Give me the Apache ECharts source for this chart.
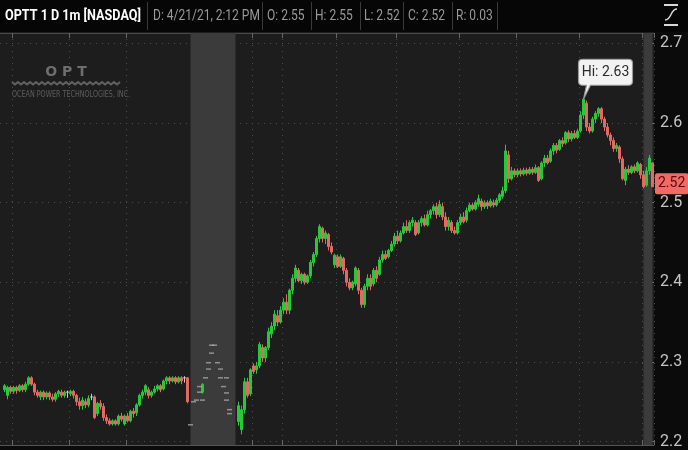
<!DOCTYPE html>
<html><head><meta charset="utf-8">
<script src="https://cdn.jsdelivr.net/npm/echarts@6/dist/echarts.min.js"></script>
<style>html,body{margin:0;padding:0;background:#000}#c{width:688px;height:450px}</style>
</head><body><div id="c"></div>
<script>
// ---- data (OHLC as [open, close, low, high]) ----
const slotCount = 218;
const priorStart = 1;
const priorSession = [
[2.265,2.27,2.262,2.272],[2.258,2.268,2.253,2.27],[2.268,2.263,2.26,2.27],[2.263,2.268,2.26,2.27],
[2.268,2.264,2.26,2.27],[2.264,2.27,2.262,2.272],[2.27,2.265,2.262,2.272],[2.265,2.272,2.262,2.275],
[2.272,2.28,2.27,2.282],[2.28,2.272,2.27,2.282],[2.272,2.262,2.258,2.274],[2.262,2.258,2.255,2.265],
[2.256,2.262,2.252,2.264],[2.262,2.256,2.252,2.264],[2.256,2.261,2.253,2.263],[2.261,2.256,2.252,2.263],
[2.256,2.253,2.25,2.26],[2.253,2.26,2.25,2.262],[2.26,2.263,2.256,2.265],[2.262,2.258,2.255,2.265],
[2.258,2.262,2.255,2.264],[2.262,2.262,2.255,2.264],[2.26,2.263,2.257,2.265],[2.263,2.258,2.254,2.265],
[2.258,2.25,2.245,2.26],[2.25,2.245,2.24,2.255],[2.245,2.252,2.24,2.256],[2.25,2.246,2.242,2.254],
[2.246,2.254,2.243,2.258],[2.256,2.256,2.252,2.26],[2.256,2.23,2.228,2.258],[2.235,2.248,2.232,2.25],
[2.248,2.244,2.24,2.252],[2.244,2.23,2.226,2.248],[2.23,2.226,2.222,2.234],[2.226,2.222,2.22,2.229],
[2.222,2.226,2.22,2.228],[2.226,2.222,2.22,2.228],[2.222,2.232,2.22,2.234],[2.232,2.228,2.225,2.236],
[2.222,2.232,2.22,2.234],[2.232,2.226,2.224,2.236],[2.226,2.238,2.224,2.24],[2.238,2.235,2.23,2.242],
[2.236,2.246,2.232,2.248],[2.246,2.258,2.244,2.26],[2.258,2.262,2.254,2.265],[2.262,2.27,2.258,2.272],
[2.265,2.258,2.254,2.268],[2.258,2.262,2.255,2.264],[2.262,2.266,2.26,2.27],[2.266,2.27,2.263,2.272],
[2.27,2.265,2.262,2.272],[2.266,2.276,2.264,2.278],[2.276,2.28,2.272,2.282],[2.28,2.276,2.272,2.282],
[2.276,2.28,2.274,2.282],[2.28,2.275,2.272,2.282],[2.275,2.28,2.273,2.282],[2.28,2.276,2.272,2.282],
[2.28,2.28,2.274,2.282],[2.28,2.25,2.248,2.281]
];
const premarketStart = 63, premarketEnd = 78;
const premarketCandleIdx = 67;
const premarketCandle = [2.262,2.272,2.26,2.273];
const premarketTrades = [
[63,2.221],[64,2.25],[65,2.252],[66,2.262],[66,2.269],[67,2.252],[68,2.28],[69,2.291],[69,2.299],
[70,2.311],[70,2.321],[71,2.321],[72,2.299],[73,2.291],[73,2.28],[74,2.269],[75,2.28],[75,2.261],
[75,2.252],[76,2.24],[76,2.235]
];
const regularStart = 79;
const regularSession = [
[2.225,2.245,2.22,2.25],[2.215,2.24,2.209,2.245],[2.24,2.275,2.235,2.28],[2.275,2.258,2.255,2.28],
[2.26,2.29,2.257,2.292],[2.295,2.288,2.285,2.298],[2.29,2.295,2.285,2.30],[2.295,2.322,2.292,2.325],
[2.318,2.305,2.30,2.322],[2.305,2.318,2.30,2.32],[2.318,2.338,2.315,2.343],[2.335,2.345,2.33,2.35],
[2.345,2.36,2.34,2.365],[2.358,2.35,2.345,2.365],[2.35,2.365,2.348,2.37],[2.365,2.375,2.36,2.38],
[2.375,2.365,2.36,2.385],[2.365,2.39,2.36,2.392],[2.39,2.405,2.385,2.41],[2.405,2.418,2.40,2.422],
[2.415,2.402,2.40,2.418],[2.402,2.41,2.398,2.412],[2.41,2.40,2.397,2.412],[2.40,2.408,2.398,2.41],
[2.408,2.425,2.405,2.428],[2.425,2.435,2.42,2.438],[2.435,2.455,2.432,2.458],[2.455,2.47,2.45,2.473],
[2.468,2.455,2.45,2.47],[2.455,2.462,2.448,2.465],[2.46,2.445,2.44,2.462],[2.445,2.438,2.435,2.45],
[2.422,2.434,2.418,2.436],[2.432,2.42,2.418,2.435],[2.42,2.432,2.418,2.435],[2.43,2.415,2.41,2.432],
[2.415,2.40,2.395,2.418],[2.40,2.393,2.39,2.405],[2.393,2.40,2.39,2.402],[2.398,2.418,2.395,2.42],
[2.415,2.39,2.385,2.418],[2.39,2.372,2.368,2.393],[2.372,2.395,2.368,2.398],[2.395,2.405,2.39,2.41],
[2.405,2.395,2.39,2.41],[2.398,2.415,2.395,2.418],[2.415,2.405,2.40,2.42],[2.41,2.428,2.408,2.432],
[2.428,2.435,2.425,2.44],[2.435,2.43,2.428,2.44],[2.432,2.44,2.43,2.442],[2.44,2.448,2.438,2.452],
[2.448,2.458,2.445,2.462],[2.458,2.452,2.448,2.465],[2.452,2.462,2.45,2.465],[2.462,2.47,2.46,2.475],
[2.47,2.465,2.462,2.478],[2.465,2.475,2.462,2.478],[2.475,2.478,2.47,2.482],[2.475,2.46,2.458,2.478],
[2.462,2.475,2.46,2.478],[2.475,2.48,2.47,2.483],[2.48,2.472,2.47,2.485],[2.472,2.485,2.47,2.49],
[2.485,2.49,2.48,2.492],[2.49,2.495,2.485,2.498],[2.495,2.485,2.48,2.50],[2.485,2.498,2.482,2.503],
[2.495,2.482,2.478,2.50],[2.482,2.47,2.465,2.488],[2.47,2.478,2.465,2.482],[2.475,2.465,2.462,2.478],
[2.465,2.462,2.46,2.47],[2.462,2.475,2.46,2.478],[2.475,2.482,2.472,2.486],[2.482,2.476,2.474,2.488],
[2.478,2.49,2.475,2.494],[2.49,2.497,2.488,2.50],[2.497,2.492,2.49,2.50],[2.492,2.50,2.49,2.503],
[2.498,2.505,2.495,2.51],[2.502,2.495,2.49,2.505],[2.495,2.50,2.492,2.503],[2.50,2.496,2.492,2.503],
[2.496,2.502,2.494,2.505],[2.50,2.497,2.494,2.504],[2.497,2.503,2.495,2.506],[2.503,2.51,2.50,2.512],
[2.508,2.515,2.505,2.52],[2.515,2.565,2.512,2.573],[2.56,2.53,2.525,2.565],[2.53,2.54,2.528,2.545],
[2.54,2.535,2.532,2.543],[2.535,2.54,2.532,2.543],[2.54,2.536,2.533,2.543],[2.536,2.541,2.534,2.544],
[2.541,2.537,2.534,2.544],[2.537,2.542,2.535,2.545],[2.542,2.538,2.535,2.545],[2.538,2.544,2.536,2.548],
[2.544,2.528,2.526,2.546],[2.53,2.55,2.528,2.552],[2.55,2.556,2.545,2.56],[2.556,2.55,2.548,2.56],
[2.552,2.565,2.55,2.568],[2.565,2.572,2.56,2.575],[2.572,2.566,2.562,2.575],[2.567,2.578,2.565,2.58],
[2.578,2.574,2.57,2.582],[2.575,2.588,2.573,2.59],[2.588,2.58,2.576,2.591],[2.58,2.587,2.577,2.59],
[2.587,2.582,2.58,2.591],[2.582,2.59,2.58,2.593],[2.59,2.61,2.588,2.615],[2.61,2.63,2.605,2.63],
[2.625,2.595,2.59,2.628],[2.595,2.59,2.587,2.60],[2.59,2.605,2.588,2.608],[2.605,2.612,2.60,2.615],
[2.612,2.618,2.608,2.62],[2.618,2.605,2.60,2.62],[2.605,2.595,2.59,2.608],[2.595,2.585,2.582,2.60],
[2.585,2.578,2.572,2.588],[2.578,2.568,2.564,2.582],[2.568,2.572,2.564,2.575],[2.57,2.555,2.55,2.572],
[2.555,2.53,2.528,2.558],[2.528,2.542,2.522,2.545],[2.542,2.538,2.535,2.547],[2.538,2.545,2.536,2.547],
[2.545,2.54,2.537,2.548],[2.54,2.55,2.538,2.552],[2.548,2.535,2.53,2.55],[2.535,2.52,2.518,2.54],
[2.522,2.54,2.52,2.545],[2.54,2.556,2.535,2.56],[2.55,2.52,2.52,2.55]
];
const timeGridIdx = [4,23,42,69,84,94,112,132,153,172,193,214];
const expansionStart = 214, expansionEnd = 217;
const titleText = 'OPTT 1 D 1m [NASDAQ]';
const headerItems = ['D: 4/21/21, 2:12 PM','O: 2.55','H: 2.55','L: 2.52','C: 2.52','R: 0.03'];

// ---- build ----
const categories = Array.from({length: slotCount}, (_, i) => 'm' + i);
const candles = new Array(slotCount).fill('-');
priorSession.forEach((c, k) => candles[priorStart + k] = c);
candles[premarketCandleIdx] = premarketCandle;
regularSession.forEach((c, k) => candles[regularStart + k] = c);
let hiIdx = regularStart, hiVal = -1;
regularSession.forEach((c, k) => { if (c[3] > hiVal) { hiVal = c[3]; hiIdx = regularStart + k; } });
const lastClose = regularSession[regularSession.length - 1][1];
const FONT = "Roboto,'DejaVu Sans'";

const headerX = [153, 267, 315, 364, 408, 456];
const sepX = [147, 262, 311, 360, 403, 452, 497];
const graphics = [
  {type:'rect', z:-5, shape:{x:0,y:0,width:688,height:32}, style:{fill:'#060606'}},
  {type:'rect', z:-5, shape:{x:654,y:32,width:34,height:418}, style:{fill:'#0b0b0b'}},
  {type:'rect', z:-5, shape:{x:0,y:446,width:654,height:4}, style:{fill:'#0b0b0b'}},
  {type:'text', z:10, x:5, y:16, scaleX:0.84, style:{text:titleText, fill:'#ffffff', font:"bold 15px " + FONT, textVerticalAlign:'middle'}},
];
headerItems.forEach((t, k) => graphics.push({type:'text', z:10, x:headerX[k], y:16, scaleX:0.8,
  style:{text:t, fill:'#9a9a9a', font:"15px " + FONT, textVerticalAlign:'middle'}}));
sepX.forEach(x => graphics.push({type:'line', z:10, shape:{x1:x+0.5,y1:2,x2:x+0.5,y2:30}, style:{stroke:'#3a3a3a', lineWidth:1}}));
// top-right icon
graphics.push({type:'rect', z:10, shape:{x:664,y:4,width:14,height:2}, style:{fill:'#d8d8d8'}});
graphics.push({type:'rect', z:10, shape:{x:664,y:24,width:14,height:2}, style:{fill:'#d8d8d8'}});
graphics.push({type:'bezierCurve', z:10, shape:{x1:665,y1:20,x2:677,y2:9,cpx1:672,cpy1:20,cpx2:670,cpy2:9}, style:{stroke:'#d8d8d8', lineWidth:1.5, fill:null}});
// watermark
graphics.push({type:'text', z:1, x:66, y:72, style:{text:'O P T', fill:'#6e6e6e', font:"bold 14px 'DejaVu Sans'", textAlign:'center', textVerticalAlign:'middle'}});
const wave = [];
for (let x = 12; x <= 120; x += 3) wave.push([x, (x / 3) % 2 === 0 ? 82 : 84.5]);
graphics.push({type:'polyline', z:1, shape:{points:wave}, style:{stroke:'#626262', lineWidth:2, fill:null}});
graphics.push({type:'text', z:1, x:12, y:95, scaleX:0.8, style:{text:'OCEAN POWER TECHNOLOGIES, INC.', fill:'#5e5e5e', font:"8px 'DejaVu Sans'", textVerticalAlign:'middle'}});

const chart = echarts.init(document.getElementById('c'), null, {renderer:'canvas'});
const gridFn = (i) => timeGridIdx.includes(i);
chart.setOption({
  backgroundColor:'#1d1d1d',
  animation:false,
  graphic: graphics,
  grid:{left:0, right:34, top:33, bottom:5},
  xAxis:[{
    type:'category', data:categories, boundaryGap:true,
    axisLine:{show:true, lineStyle:{color:'#555'}},
    axisTick:{show:true, inside:true, length:5, interval:gridFn, lineStyle:{color:'#666'}},
    axisLabel:{show:false},
    splitLine:{show:true, interval:gridFn, lineStyle:{color:'#4e4e4e', type:[1,5], width:1}}
  },{
    type:'category', data:categories, boundaryGap:true, position:'top',
    axisLine:{show:true, lineStyle:{color:'#4a4a4a'}},
    axisTick:{show:true, inside:true, length:5, interval:gridFn, lineStyle:{color:'#666'}},
    axisLabel:{show:false}, splitLine:{show:false}
  }],
  yAxis:{
    type:'value', position:'right', min:2.19561, max:2.71317, splitNumber:5,
    axisLine:{show:false},
    axisTick:{show:true, inside:true, length:3, lineStyle:{color:'#777'}},
    axisLabel:{color:'#c4c4c4', fontSize:16, fontFamily:FONT, margin:6, showMinLabel:false, showMaxLabel:false,
      formatter:(v) => v.toFixed(1)},
    splitLine:{show:true, lineStyle:{color:'#4e4e4e', type:[1,5], width:1}}
  },
  series:[
    {
      type:'candlestick', data:candles, barWidth:2.6,
      itemStyle:{color:'#27c93a', color0:'#e36a62', borderColor:'#27c93a', borderColor0:'#e36a62', borderColorDoji:'#cfcfcf', borderWidth:1},
      markArea:{silent:true, itemStyle:{color:'#3b3b3b'},
        data:[[{xAxis:categories[premarketStart]},{xAxis:categories[premarketEnd]}],
              [{xAxis:categories[expansionStart]},{xAxis:categories[expansionEnd]}]]},
      markLine:{symbol:'none', silent:true, lineStyle:{color:'rgba(0,0,0,0)', width:1},
        label:{show:true, position:'end', formatter:lastClose.toFixed(2), backgroundColor:'#f06b67', color:'#5a0808',
          fontSize:14, fontFamily:FONT, padding:[4,3,3,3], borderRadius:2, distance:1, offset:[0,-3]},
        data:[{yAxis:lastClose}]},
      markPoint:{silent:true,
        symbol:'path://M4,0 H50 Q54,0 54,4 V22 Q54,26 50,26 H12 L5,40 L8,26 H4 Q0,26 0,22 V4 Q0,0 4,0 Z',
        symbolSize:[54,40], symbolKeepAspect:false, symbolOffset:[22,-20],
        itemStyle:{color:'#f2f2f2', borderColor:'#9a9a9a', borderWidth:1},
        label:{show:true, formatter:'Hi: ' + hiVal.toFixed(2), color:'#2a2a2a', fontSize:14, fontFamily:FONT, offset:[0,-7]},
        data:[{coord:[categories[hiIdx], hiVal]}]}
    },
    {
      type:'scatter', data:premarketTrades, symbol:'rect', symbolSize:[5,1.5],
      itemStyle:{color:'#a8a8a8'}, silent:true, z:3
    }
  ]
});
</script></body></html>
